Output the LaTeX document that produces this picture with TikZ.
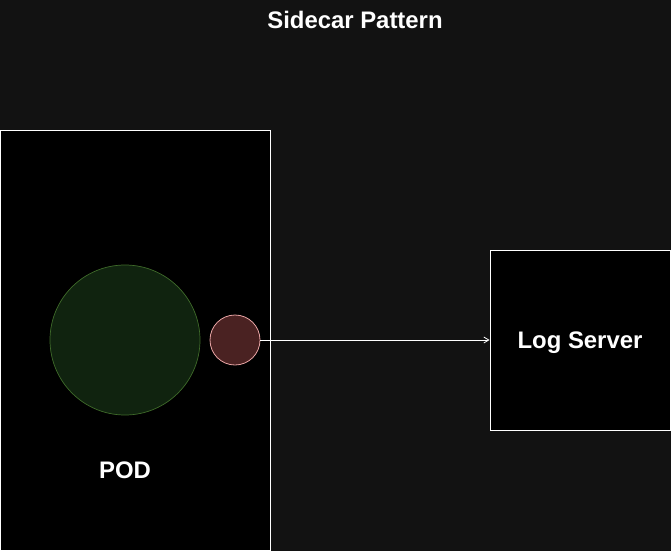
\documentclass[tikz,border=0pt]{standalone}
\usepackage{fontspec}
\setmainfont{Liberation Sans}
\usetikzlibrary{arrows.meta}
\definecolor{bgc}{HTML}{121212}
\definecolor{greenfill}{HTML}{10230F}
\definecolor{greenline}{HTML}{3F6B2A}
\definecolor{redfill}{HTML}{4A2222}
\definecolor{redline}{HTML}{E8A4A4}
\tikzset{
  box/.style={draw=white, fill=black, line width=0.9pt, inner sep=0pt},
  lbl/.style={text=white, font=\bfseries\fontsize{23.9}{28}\selectfont},
}
\begin{document}
\begin{tikzpicture}[x=1pt,y=-1pt]
\useasboundingbox[fill=bgc] (0,0) rectangle (671,551);
\node[box, minimum width=270pt, minimum height=420pt] (pod) at (135,340) {};
\node[lbl] (podlbl) at (125,470) {POD};
\node[draw=greenline, fill=greenfill, circle, line width=0.7pt, minimum size=150pt, inner sep=0pt] (app) at (125,340) {};
\node[draw=redline, fill=redfill, circle, line width=0.8pt, minimum size=50pt, inner sep=0pt] (side) at (235,340) {};
\node[box, minimum width=180pt, minimum height=180pt] (log) at (580,340) {};
\node[lbl] (loglbl) at ([yshift=-2.5pt]log.center) {Log Server};
\node[lbl] (title) at (355,20) {Sidecar Pattern};
\draw[white, line width=0.8pt, -{Straight Barb[length=5pt,width=6pt]}] (side.east) -- (log.west);
\end{tikzpicture}
\end{document}
